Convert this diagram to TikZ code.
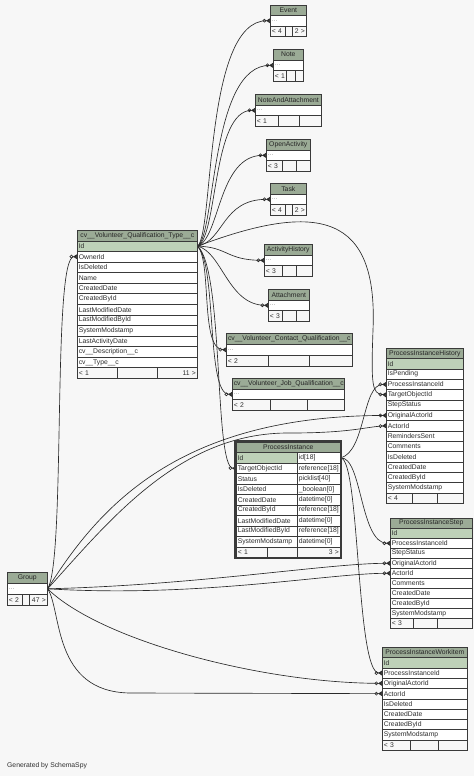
\documentclass[tikz,border=0pt]{standalone}
\usepackage{fontspec}
\setmainfont{Liberation Sans}
\usetikzlibrary{arrows.meta}
\definecolor{bgc}{HTML}{F7F7F7}
\definecolor{hdr}{HTML}{9BAB96}
\definecolor{pk}{HTML}{BED1B8}
\definecolor{bd}{HTML}{3A3A3A}
\definecolor{tx}{HTML}{2E2E2E}
\definecolor{edgec}{HTML}{2A2A2A}
\pgfdeclarelayer{back}
\pgfdeclarelayer{edges}
\pgfsetlayers{back,edges,main}
\tikzset{
  cellbase/.style={draw=bd, line width=0.6pt, anchor=north west, inner xsep=1.5pt, inner ysep=0pt,
    font=\fontsize{6.8}{7.2}\selectfont, text=tx, align=left},
  cell/.style={cellbase, fill=white},
  hcell/.style={cellbase, fill=hdr, align=center, text=black!85},
  pkcell/.style={cellbase, fill=pk},
  dotcell/.style={cellbase, fill=white, text=black!40},
  fcell/.style={cellbase, fill=bgc},
  fcellr/.style={cellbase, fill=bgc, align=right},
  fk/.style={draw=edgec, line width=0.65pt,
    -{Circle[open,length=3.6pt,width=3.6pt,line width=0.6pt]Triangle[reversed,length=3.8pt,width=4.8pt]}},
  credit/.style={anchor=west, inner sep=0pt, font=\fontsize{6.8}{7.2}\selectfont, text=tx}
}
% style, name, x, y, w, h, text
\newcommand\mkcell[7]{\node[#1,text width={(#5)*1pt-3pt},minimum height={(#6)*1pt}] (#2) at ({#3},{#4}) {#7};}
% prefix, y, h, x0, x1, x2, x3, left, right
\newcommand\ftr[9]{%
  \mkcell{fcell}{#1-fl}{#4}{#2}{#5-#4}{#3}{\mbox{#8}}%
  \mkcell{fcell}{#1-fm}{#5}{#2}{#6-#5}{#3}{}%
  \mkcell{fcellr}{#1-fr}{#6}{#2}{#7-#6}{#3}{\mbox{#9}}}
% prefix, title, x, y, w, h
\newcommand\smalltbl[6]{%
  \mkcell{hcell}{#1-hdr}{#3}{#4}{#5}{#6}{#2}%
  \mkcell{dotcell}{#1-1}{#3}{#4+#6}{#5}{#6}{...}}
% prefix, x, y0, w, h, list
\newcommand\tbody[6]{%
  \foreach \t [count=\i] in {#6} {\mkcell{cell}{#1-\i}{#2}{#3+(\i-1)*#5}{#4}{#5}{\t}}}
\begin{document}
\begin{tikzpicture}[x=1pt,y=-1pt]
\useasboundingbox (0,0) rectangle (474,776);
\begin{pgfonlayer}{back}
\fill[bgc] (0,0) rectangle (474,776);
\end{pgfonlayer}

% ---- small tables
\smalltbl{ev}{Event}{270}{5}{36}{10.3}
\ftr{ev}{5+2*10.3}{10.3}{270}{285}{292}{306}{< 4}{2 >}
\smalltbl{note}{Note}{273}{49}{30}{10.7}
\ftr{note}{49+2*10.7}{10.7}{273}{286}{295}{303}{< 1}{}
\smalltbl{naa}{NoteAndAttachment}{255}{94}{66}{10.7}
\ftr{naa}{94+2*10.7}{10.7}{255}{278}{299}{321}{< 1}{}
\smalltbl{oa}{OpenActivity}{266}{139}{44}{10.7}
\ftr{oa}{139+2*10.7}{10.7}{266}{282}{296}{310}{< 3}{}
\smalltbl{task}{Task}{270}{183}{36}{10.7}
\ftr{task}{183+2*10.7}{10.7}{270}{285}{292}{306}{< 4}{2 >}
\smalltbl{ah}{ActivityHistory}{264}{244}{48}{10.7}
\ftr{ah}{244+2*10.7}{10.7}{264}{282}{296}{312}{< 3}{}
\smalltbl{att}{Attachment}{268}{289}{41}{10.7}
\ftr{att}{289+2*10.7}{10.7}{268}{282}{296}{309}{< 3}{}
\smalltbl{vcq}{cv\_\_Volunteer\_Contact\_Qualification\_\_c}{226}{333}{126}{11}
\ftr{vcq}{333+2*11}{11}{226}{268}{309}{352}{< 2}{}
\smalltbl{vjq}{cv\_\_Volunteer\_Job\_Qualification\_\_c}{232}{378}{112}{10.7}
\ftr{vjq}{378+2*10.7}{10.7}{232}{270}{307}{344}{< 2}{}
\smalltbl{grp}{Group}{7}{572}{40}{11}
\ftr{grp}{572+2*11}{11}{7}{22}{29}{47}{< 2}{47 >}

% ---- cv__Volunteer_Qualification_Type__c
\mkcell{hcell}{vqt-hdr}{77}{230}{120}{10.57}{cv\_\_Volunteer\_Qualification\_Type\_\_c}
\mkcell{pkcell}{vqt-id}{77}{230+10.57}{120}{10.57}{Id}
\tbody{vqt}{77}{230+2*10.57}{120}{10.57}{OwnerId,IsDeleted,Name,CreatedDate,CreatedById,LastModifiedDate,LastModifiedById,SystemModstamp,LastActivityDate,cv\_\_Description\_\_c,cv\_\_Type\_\_c}
\ftr{vqt}{230+13*10.57}{10.57}{77}{117}{157}{197}{< 1}{11 >}

% ---- ProcessInstanceHistory
\mkcell{hcell}{pih-hdr}{386}{348}{77}{10.33}{ProcessInstanceHistory}
\mkcell{pkcell}{pih-id}{386}{348+10.33}{77}{10.33}{Id}
\tbody{pih}{386}{348+2*10.33}{77}{10.33}{IsPending,ProcessInstanceId,TargetObjectId,StepStatus,OriginalActorId,ActorId,RemindersSent,Comments,IsDeleted,CreatedDate,CreatedById,SystemModstamp}
\ftr{pih}{348+14*10.33}{10.33}{386}{412}{437}{463}{< 4}{}

% ---- ProcessInstanceStep
\mkcell{hcell}{pis-hdr}{390}{518}{82}{10}{ProcessInstanceStep}
\mkcell{pkcell}{pis-id}{390}{528}{82}{10}{Id}
\tbody{pis}{390}{538}{82}{10}{ProcessInstanceId,StepStatus,OriginalActorId,ActorId,Comments,CreatedDate,CreatedById,SystemModstamp}
\ftr{pis}{618}{10}{390}{413}{437}{472}{< 3}{}

% ---- ProcessInstanceWorkitem
\mkcell{hcell}{piw-hdr}{382}{647}{85}{10.3}{ProcessInstanceWorkitem}
\mkcell{pkcell}{piw-id}{382}{647+10.3}{85}{10.3}{Id}
\tbody{piw}{382}{647+2*10.3}{85}{10.3}{ProcessInstanceId,OriginalActorId,ActorId,IsDeleted,CreatedDate,CreatedById,SystemModstamp}
\ftr{piw}{647+9*10.3}{10.3}{382}{410}{438}{467}{< 3}{}

% ---- ProcessInstance
\mkcell{hcell}{pi-hdr}{236}{442}{104}{10.45}{ProcessInstance}
\mkcell{pkcell}{pi-nid}{236}{442+10.45}{61}{10.45}{Id}
\mkcell{cell}{pi-tid}{297}{442+10.45}{43}{10.45}{id[18]}
\foreach \n/\ty [count=\i] in {TargetObjectId/reference[18],Status/picklist[40],IsDeleted/\_boolean[0],CreatedDate/datetime[0],CreatedById/reference[18],LastModifiedDate/datetime[0],LastModifiedById/reference[18],SystemModstamp/datetime[0]}{%
  \mkcell{cell}{pi-n\i}{236}{442+(\i+1)*10.45}{61}{10.45}{\n}
  \mkcell{cell}{pi-t\i}{297}{442+(\i+1)*10.45}{43}{10.45}{\ty}}
\ftr{pi}{442+10*10.45}{10.45}{236}{267}{297}{340}{< 1}{3 >}
\draw[bd, line width=1.6pt] ([shift={(-0.8,-0.8)}]pi-hdr.north west) rectangle ([shift={(0.8,0.8)}]pi-fr.south east);

\node[credit] (credit) at (7,766) {Generated by SchemaSpy};

% ---- connectors
\begin{pgfonlayer}{edges}
\draw[fk] (vqt-id.east) .. controls (214,232) and (204,20) .. (ev-1.west);
\draw[fk] (vqt-id.east) .. controls (216,234) and (210,65) .. (note-1.west);
\draw[fk] (vqt-id.east) .. controls (218,236) and (212,110) .. (naa-1.west);
\draw[fk] (vqt-id.east) .. controls (220,238) and (218,155) .. (oa-1.west);
\draw[fk] (vqt-id.east) .. controls (224,241) and (222,199) .. (task-1.west);
\draw[fk] (vqt-id.east) .. controls (228,247) and (226,260) .. (ah-1.west);
\draw[fk] (vqt-id.east) .. controls (222,252) and (228,305) .. (att-1.west);
\draw[fk] (vqt-id.east) .. controls (212,262) and (200,349) .. (vcq-1.west);
\draw[fk] (vqt-id.east) .. controls (217,265) and (206,394) .. (vjq-1.west);
\draw[fk] (vqt-id.east) .. controls (224,270) and (214,467) .. (pi-n1.west);
\draw[fk] (vqt-id.east) .. controls (320,200) and (378,215) .. (373,330) .. controls (371,385) and (372,394) .. (pih-3.west);

\draw[fk] (pi-tid.east) .. controls (366,451) and (362,384) .. (pih-2.west);
\draw[fk] (pi-tid.east) .. controls (362,456) and (360,543) .. (pis-1.west);
\draw[fk] (pi-tid.east) .. controls (360,458) and (356,673) .. (piw-1.west);

\draw[fk] (grp-1.east) .. controls (66,560) and (52,256) .. (vqt-1.west);
\draw[fk] (grp-1.east) .. controls (100,505) and (180,416) .. (pih-5.west);
\draw[fk] (grp-1.east) .. controls (110,520) and (180,432) .. (290,433) .. controls (350,433) and (365,427) .. (pih-6.west);
\draw[fk] (grp-1.east) .. controls (200,585) and (330,563) .. (pis-3.west);
\draw[fk] (grp-1.east) .. controls (200,598) and (330,573) .. (pis-4.west);
\draw[fk] (grp-1.east) .. controls (100,640) and (260,683) .. (piw-2.west);
\draw[fk] (grp-1.east) .. controls (62,610) and (52,692) .. (130,693) -- (piw-3.west);
\end{pgfonlayer}
\end{tikzpicture}
\end{document}
